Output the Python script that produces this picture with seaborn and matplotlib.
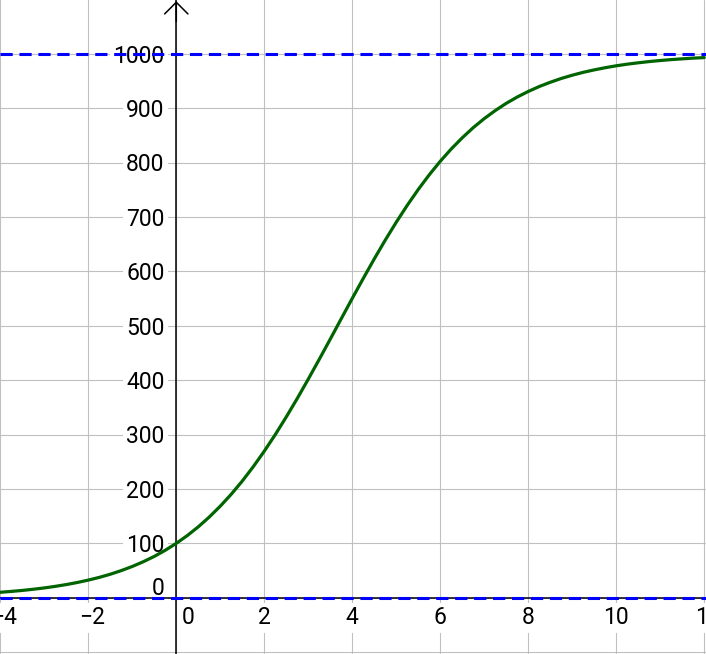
import numpy as np
import matplotlib
matplotlib.use("Agg")
import matplotlib.pyplot as plt
import seaborn as sns

# points
x_vals = [-4, -3.75, -3.5, -3.25, -3, -2.75, -2.5, -2.25, -2, -1.75, -1.5, -1.25,
          -1, -0.75, -0.5, -0.25, 0, 0.25, 0.5, 0.75, 1, 1.25, 1.5, 1.75,
          2, 2.25, 2.5, 2.75, 3, 3.25, 3.5, 3.75, 4, 4.25, 4.5, 4.75,
          5, 5.25, 5.5, 5.75, 6, 6.25, 6.5, 6.75, 7, 7.25, 7.5, 7.75,
          8, 8.25, 8.5, 8.75, 9, 9.25, 9.5, 9.75, 10, 10.25, 10.5, 10.75,
          11, 11.25, 11.5, 11.75, 12]
y_vals = [10, 11.6, 13.4, 15.6, 18, 20.9, 24.2, 28, 32.4, 37.4, 43.2, 49.9,
          57.5, 66.2, 76, 87.3, 100, 114.3, 130.4, 148.4, 168.4, 190.4, 214.6, 241,
          269.5, 300, 332.5, 366.5, 402, 438.5, 475.6, 513.2, 550.5, 587.2, 623.1, 657.7,
          690.6, 721.7, 750.8, 777.8, 802.6, 825.3, 845.8, 864.5, 881.1, 895.9, 909.2, 920.8,
          931, 940.1, 947.9, 954.9, 960.9, 966.2, 970.7, 974.7, 978.2, 981.2, 983.7, 986,
          987.9, 989.6, 991, 992.3, 993.3]
asymptotes = [0, 1000]

x_ticks = [-4, -2, 0, 2, 4, 6, 8, 10, 12]
x_labels = ['−4', '−2', '0', '2', '4', '6', '8', '10', '12']
y_ticks = [0, 100, 200, 300, 400, 500, 600, 700, 800, 900, 1000]
y_labels = [str(v) for v in y_ticks]

sns.set_style("white")
plt.rcParams['font.family'] = ['Roboto', 'DejaVu Sans']

fig = plt.figure(figsize=(7.06, 6.54), dpi=100)
ax = fig.add_axes([0, 0, 1, 1])
ax.set_xlim(-4.007, 12.04)
ax.set_ylim(-103.5, 1099.2)
for s in ax.spines.values():
    s.set_visible(False)
ax.set_xticks([])
ax.set_yticks([])

# grid
for gx in range(-4, 14, 2):
    ax.axvline(gx, color='#c0c0c0', lw=0.8, zorder=0)
for gy in range(-100, 1100, 100):
    ax.axhline(gy, color='#c0c0c0', lw=0.8, zorder=0)

# axis labels with white boxes
box = dict(facecolor='white', edgecolor='none', pad=2.5)
for t, lab in zip(x_ticks, x_labels):
    if t == 0:
        xx = 0.28
    elif t < 0:
        xx = t + 0.09
    elif t == 12:
        xx = t + 0.08
    else:
        xx = t
    ax.text(xx, -37, lab, ha='center', va='center', fontsize=16.5, color='black',
            bbox=box, zorder=1)
for t, lab in zip(y_ticks, y_labels):
    yy = t - 4 if t != 0 else 17
    ax.text(-0.27, yy, lab, ha='right', va='center', fontsize=16.5, color='black',
            bbox=box, zorder=1)

# axes
ax.axhline(0, color='black', lw=1.1, zorder=2)
ax.axvline(0, color='black', lw=1.1, zorder=2)
ax.annotate('', xy=(0, 1097), xytext=(0, 1060),
            arrowprops=dict(arrowstyle='->,head_length=0.3,head_width=0.3',
                            color='black', lw=1.1, mutation_scale=28, shrinkA=0, shrinkB=0),
            zorder=3)

# asymptotes
for a in asymptotes:
    ax.axhline(a, color='#0000ff', lw=2.2, dashes=(4, 2.2), zorder=4)

sns.lineplot(x=x_vals, y=y_vals, ax=ax, color='#006400', linewidth=2.3, zorder=5)

fig.savefig('out.png', dpi=100)
